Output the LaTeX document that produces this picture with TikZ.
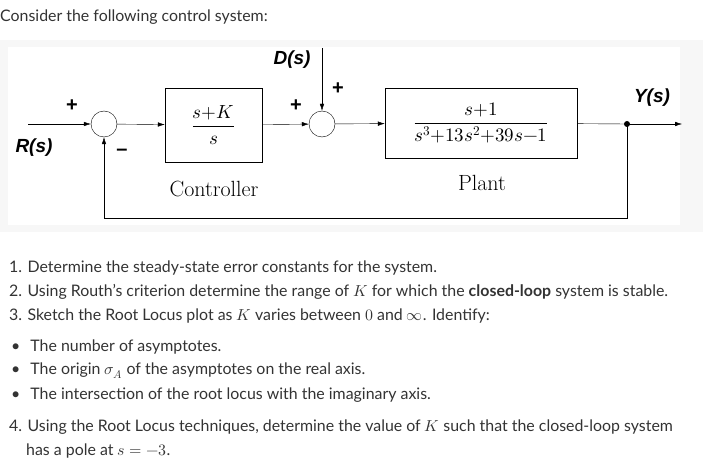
\documentclass[tikz,border=0pt]{standalone}
\usepackage{fontspec}
\setmainfont{Lato}
\newfontfamily\hv{Liberation Sans}
\usepackage{unicode-math}
\setmathfont{Latin Modern Math}
\usetikzlibrary{arrows.meta}
\begin{document}
\begin{tikzpicture}[x=1pt,y=-1pt,
  txt/.style={anchor=west,inner sep=0pt,font=\fontsize{15.9}{18}\selectfont,text=black!80},
  blk/.style={draw,thin,inner sep=0pt},
  sumc/.style={draw,thin,circle,minimum size=26pt,inner sep=0pt},
  lab/.style={font=\hv\bfseries\itshape\fontsize{19}{20}\selectfont,inner sep=0pt},
  sg/.style={font=\hv\bfseries\fontsize{20}{20}\selectfont,inner sep=0pt},
  rm/.style={font=\fontspec{Latin Modern Roman}\fontsize{19}{20}\selectfont,inner sep=0pt},
  big/.style={font=\fontspec{Latin Modern Roman}\fontsize{22}{24}\selectfont,inner sep=0pt},
  ar/.style={-{Latex[length=7pt,width=4.5pt]},thin}]
\useasboundingbox (0,0) rectangle (703,473);
\fill[black!3] (0,40) rectangle (703,232);
\fill[white] (8,47) rectangle (680,225);
\node[txt] (title) at (0,17) {Consider the following control system:};
% diagram
\coordinate (rin) at (28,124);
\node[sumc] (s1) at (104,124) {};
\node[blk,minimum width=97pt,minimum height=74pt] (c) at (213.5,125) {};
\node[rm] (cf) at (213.5,125) {$\displaystyle\frac{s{+}K}{s}$};
\node[sumc] (s2) at (322,124) {};
\node[blk,minimum width=192pt,minimum height=70pt] (p) at (481,123) {};
\node[rm] (pf) at (481,123) {$\displaystyle\frac{s{+}1}{s^3{+}13s^2{+}39s{-}1}$};
\fill (627,124) circle (3pt) coordinate (o);
\coordinate (yout) at (682,124);
\coordinate (dtop) at (322,48);
\coordinate (fb1) at (627,218);
\coordinate (fb2) at (104,218);
\draw[ar] (rin) -- (s1);
\draw[ar] (s1) -- (c);
\draw[ar] (c) -- (s2);
\draw[ar] (s2) -- (p);
\draw (p) -- (o);
\draw[ar] (o) -- (yout);
\draw[ar] (dtop) -- (s2);
\draw[ar] (o) -- (fb1) -- (fb2) -- (s1);
\node[lab] (R) at (34,148) {R(s)};
\node[lab] (Y) at (652,98) {Y(s)};
\node[lab] (D) at (292,60) {D(s)};
\node[sg] (p1) at (72,106) {+};
\node[sg] (p2) at (296,106) {+};
\node[sg] (p3) at (338,89) {+};
\node[sg] (m1) at (122,152) {–};
\node[big] (ct) at (214,189) {Controller};
\node[big] (pt) at (482,183) {Plant};
% text
\node[txt] (l1) at (9,268) {1. Determine the steady-state error constants for the system.};
\node[txt] (l2) at (9,292) {2. Using Routh's criterion determine the range of $K$ for which the \textbf{closed-loop} system is stable.};
\node[txt] (l3) at (9,316) {3. Sketch the Root Locus plot as $K$ varies between $0$ and $\infty$. Identify:};
\node[txt] (b1) at (11,347) {•\hspace{10pt}The number of asymptotes.};
\node[txt] (b2) at (11,371) {•\hspace{10pt}The origin $\sigma_A$ of the asymptotes on the real axis.};
\node[txt] (b3) at (11,395) {•\hspace{10pt}The intersection of the root locus with the imaginary axis.};
\node[txt] (l4) at (9,427) {4. Using the Root Locus techniques, determine the value of $K$ such that the closed-loop system};
\node[txt] (l5) at (26,451) {has a pole at $s=-3$.};
\end{tikzpicture}
\end{document}
